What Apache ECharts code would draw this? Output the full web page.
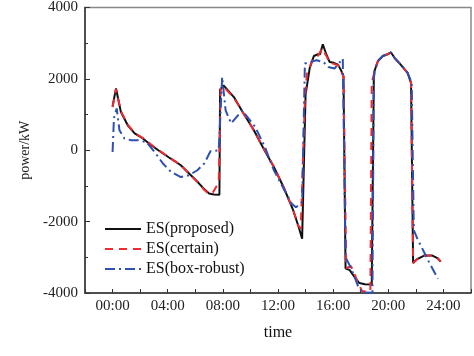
<!DOCTYPE html>
<html><head><meta charset="utf-8">
<script src="https://cdn.jsdelivr.net/npm/echarts@6/dist/echarts.min.js"></script>
<style>html,body{margin:0;padding:0;background:#fff}#c{width:474px;height:356px}</style>
</head><body><div id="c"></div>
<script>
// Tick labels
const xTickValues = [0, 4, 8, 12, 16, 20, 24];
const xTickLabels = ['00:00', '04:00', '08:00', '12:00', '16:00', '20:00', '24:00'];
const seriesNames = ['ES(proposed)', 'ES(certain)', 'ES(box-robust)'];

// ES(proposed) — time (h), power (kW)
const tProposed = [0, 0.25, 0.6, 1.1, 1.6, 2.2, 2.8, 3.5, 4.2, 4.95, 5.55, 6.05, 6.6, 7.0, 7.35, 7.75,
  7.8, 8.05, 8.8, 9.5, 10.25, 10.95, 11.7, 12.4, 13.1, 13.5, 13.75,
  14.0, 14.3, 14.6, 14.9, 15.05, 15.25, 15.5, 15.75, 16.05, 16.35, 16.6, 16.75,
  16.9, 17.2, 17.55, 17.9, 18.3, 18.8,
  18.95, 19.0, 19.25, 19.6, 19.95, 20.2, 20.45, 20.9, 21.4, 21.65,
  21.8, 22.1, 22.6, 23.2, 23.6, 23.8];
const vProposed = [1230, 1730, 1080, 700, 470, 330, 140, -50, -230, -420, -650, -840, -1070, -1210, -1240, -1250,
  1700, 1820, 1490, 1030, 560, 50, -470, -1030, -1680, -2150, -2480,
  1560, 2300, 2640, 2690, 2690, 2970, 2690, 2470, 2450, 2400, 2220, 2080,
  -3310, -3360, -3550, -3720, -3755, -3765,
  2000, 2220, 2500, 2640, 2690, 2740, 2590, 2400, 2170, 1890,
  -3160, -3050, -2950, -2950, -3030, -3120];

// ES(certain)
const tCertain = [0, 0.25, 0.6, 1.1, 1.6, 2.2, 2.8, 3.5, 4.2, 4.95, 5.55, 6.05, 6.6, 7.0, 7.3, 7.7,
  7.85, 8.05, 8.8, 9.5, 10.25, 10.95, 11.7, 12.4, 13.1, 13.45, 13.65,
  13.95, 14.1, 14.55, 14.9, 15.2, 15.5, 15.75, 16.05, 16.35, 16.6, 16.75,
  16.95, 17.3, 17.8, 18.1, 18.7,
  18.8, 19.0, 19.25, 19.6, 19.95, 20.2, 20.45, 20.9, 21.4, 21.65,
  21.8, 22.1, 22.6, 23.2, 23.6, 23.8];
const vCertain = [1210, 1720, 1100, 720, 480, 340, 160, -40, -220, -420, -660, -850, -1090, -1230, -1170, -900,
  1720, 1780, 1470, 1030, 560, 60, -460, -1030, -1670, -2100, -2200,
  1400, 2150, 2570, 2650, 2850, 2650, 2450, 2420, 2390, 2200, 2060,
  -3300, -3250, -3700, -3950, -3950,
  1900, 2200, 2500, 2640, 2690, 2740, 2590, 2400, 2170, 1890,
  -3160, -3050, -2950, -2960, -3040, -3120];

// ES(box-robust)
const tRobust = [0, 0.1, 0.3, 0.5, 0.86, 1.35, 1.85, 2.45, 3.05, 3.65, 4.25, 4.95, 5.55, 6.15, 6.65, 7.1, 7.7,
  7.95, 8.2, 8.6, 9.4, 10.35, 11.05, 11.7, 12.4, 13.0, 13.3, 13.75,
  13.95, 14.3, 14.8, 15.3, 15.65, 16.1, 16.7,
  16.9, 17.3, 17.8, 18.1, 18.85,
  18.95, 19.0, 19.25, 19.6, 19.95, 20.2, 20.45, 20.9, 21.4, 21.7,
  21.85, 22.1, 22.95, 23.6];
const vRobust = [-50, 900, 1170, 560, 330, 280, 280, 230, -50, -370, -610, -750, -700, -560, -370, -30, 0,
  2050, 1120, 750, 1120, 650, 90, -560, -1070, -1500, -1600, -1450,
  2430, 2470, 2520, 2470, 2330, 2290, 2570,
  -3000, -3300, -3800, -3980, -3990,
  2000, 2220, 2500, 2640, 2690, 2740, 2590, 2400, 2170, 1890,
  -2240, -2470, -3130, -3600];

const zip = (t, v) => t.map((x, i) => [x, v[i]]);
const FONT = "'Liberation Serif', 'Times New Roman', serif";

const chart = echarts.init(document.getElementById('c'), null, { renderer: 'canvas' });
chart.setOption({
  animation: false,
  backgroundColor: '#fff',
  textStyle: { fontFamily: FONT, color: '#222' },
  grid: { left: 85, right: 3, top: 7, bottom: 63, show: true, borderColor: '#888', borderWidth: 1.5 },
  legend: {
    orient: 'vertical', left: 99, top: 216,
    itemWidth: 36, itemHeight: 12, itemGap: 4,
    itemStyle: { opacity: 0 },
    textStyle: { fontFamily: FONT, fontSize: 16, color: '#111' },
    data: seriesNames
  },
  xAxis: {
    type: 'value', min: -2, max: 26, interval: 2,
    name: 'time', nameLocation: 'middle', nameGap: 32,
    nameTextStyle: { fontFamily: FONT, fontSize: 16, color: '#111' },
    axisLine: { onZero: false, lineStyle: { color: '#333', width: 1.5 } },
    axisTick: { inside: true, length: 4, lineStyle: { color: '#333' } },
    axisLabel: {
      fontFamily: FONT, fontSize: 15, color: '#222', margin: 6,
      formatter: v => { const i = xTickValues.indexOf(v); return i >= 0 ? xTickLabels[i] : ''; }
    },
    splitLine: { show: false }
  },
  yAxis: {
    type: 'value', min: -4000, max: 4000, interval: 2000,
    name: 'power/kW', nameLocation: 'middle', nameGap: 37,
    nameTextStyle: { fontFamily: FONT, fontSize: 14, color: '#222' },
    axisLine: { show: true, onZero: false, lineStyle: { color: '#333', width: 1.5 } },
    axisTick: { show: true, inside: true, length: 5, lineStyle: { color: '#333' } },
    minorTick: { show: true, splitNumber: 2, length: 3, lineStyle: { color: '#333' } },
    axisLabel: { fontFamily: FONT, fontSize: 15, color: '#222', margin: 7, formatter: v => String(v) },
    splitLine: { show: false }
  },
  series: [
    { name: seriesNames[0], type: 'line', symbol: 'none', data: zip(tProposed, vProposed),
      lineStyle: { color: '#111', width: 2 }, itemStyle: { color: '#111' } },
    { name: seriesNames[1], type: 'line', symbol: 'none', data: zip(tCertain, vCertain),
      lineStyle: { color: '#ee2a33', width: 2, type: [8, 6] }, itemStyle: { color: '#ee2a33' } },
    { name: seriesNames[2], type: 'line', symbol: 'none', data: zip(tRobust, vRobust),
      lineStyle: { color: '#2e50b0', width: 2, type: [10, 4, 2, 4] }, itemStyle: { color: '#2e50b0' } }
  ]
});
</script>
</body></html>
